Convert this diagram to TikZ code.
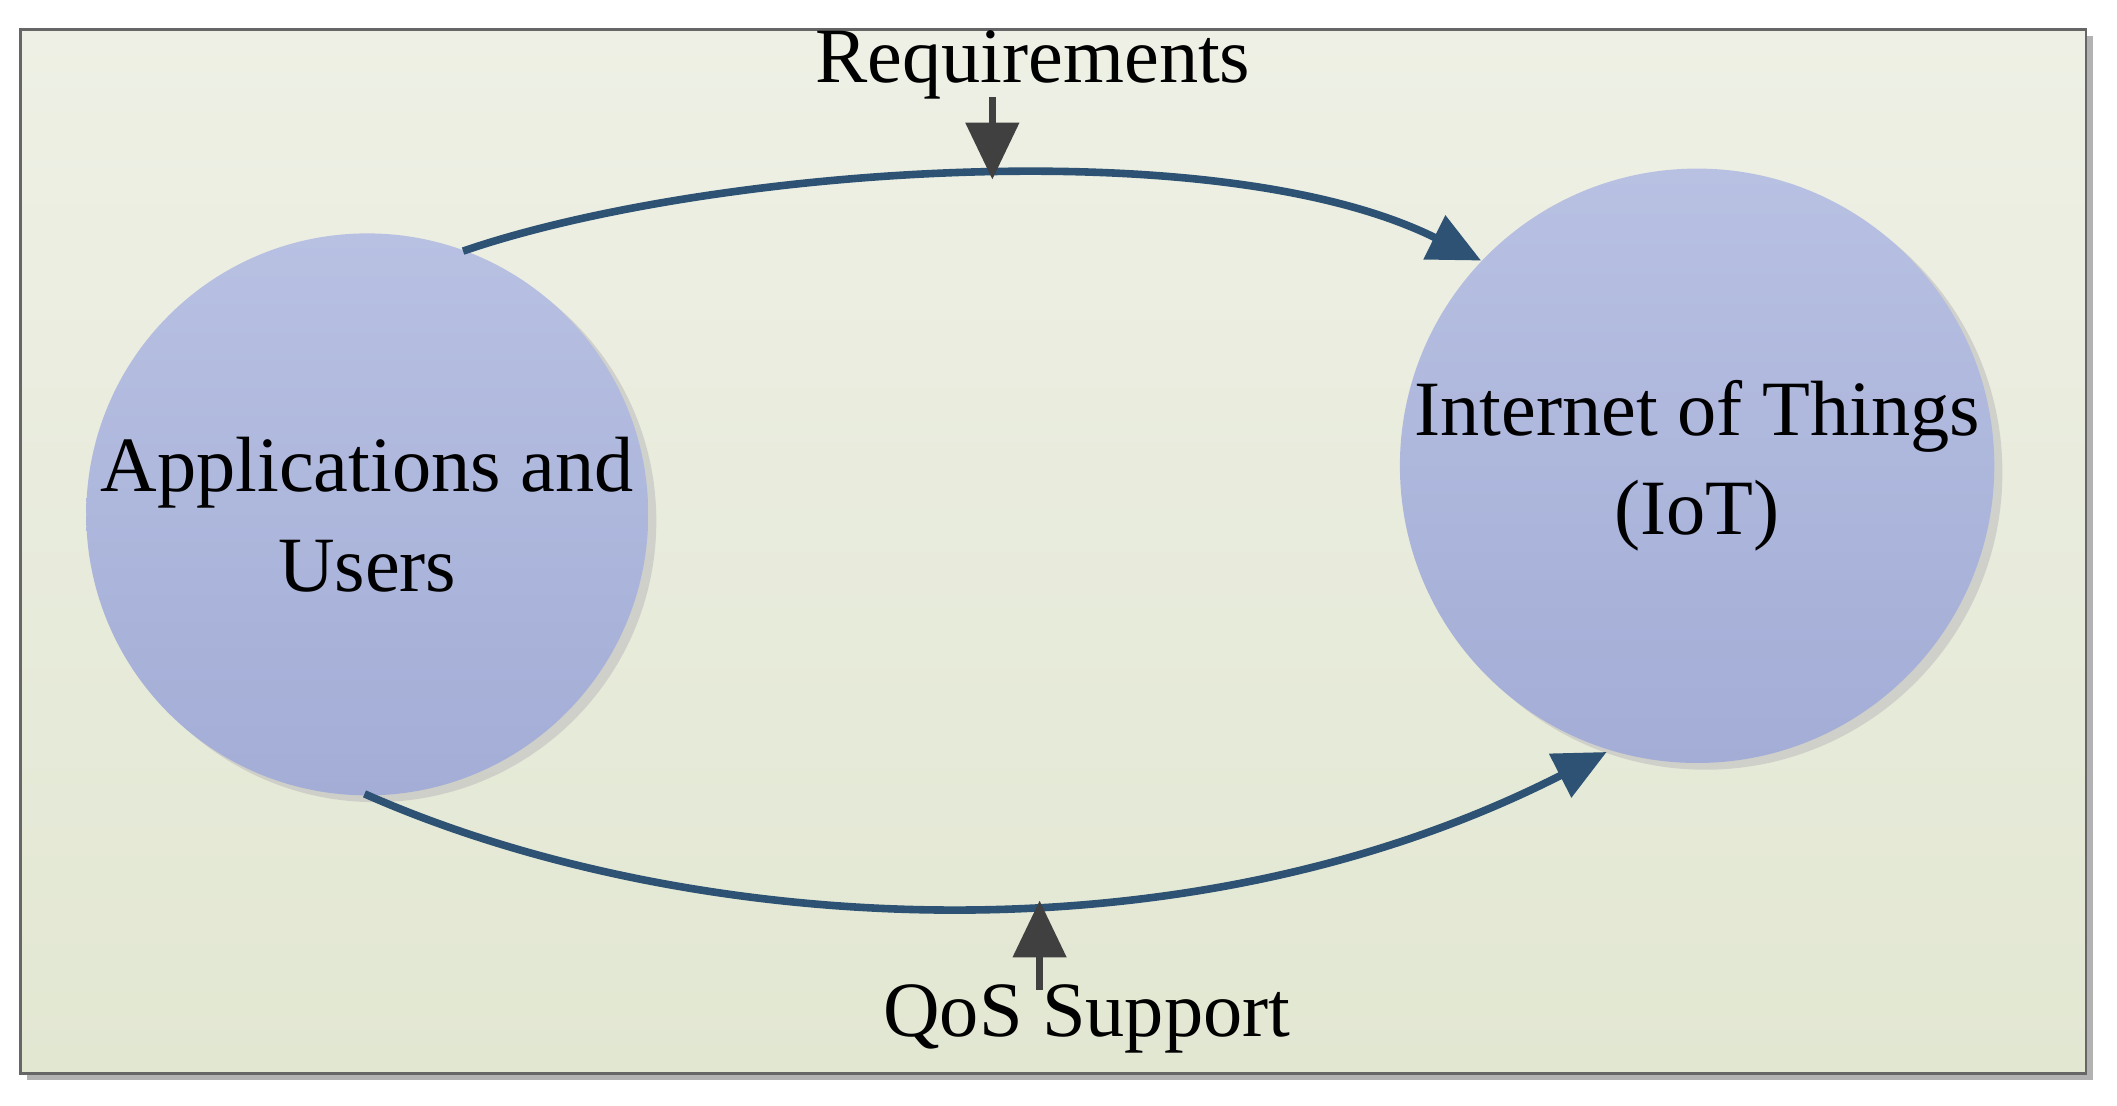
\documentclass[tikz,border=0pt]{standalone}
\usepackage{fontspec}
\setmainfont{Liberation Serif}
\usetikzlibrary{arrows.meta,shadows}
\definecolor{bgtop}{HTML}{EEF0E5}
\definecolor{bgbot}{HTML}{E2E7D2}
\definecolor{ctop}{HTML}{B8C1E2}
\definecolor{cbot}{HTML}{A3ADD6}
\definecolor{arc}{HTML}{2D5274}
\begin{document}
\begin{tikzpicture}[x=0.01cm,y=-0.01cm,
  ball/.style={circle,inner sep=0pt,top color=ctop,bottom color=cbot,draw=none,
    drop shadow={shadow xshift=0.06cm,shadow yshift=-0.05cm,fill=black!25,opacity=0.6}},
  flow/.style={draw=arc,line width=1.6pt,-{Triangle[length=11pt,width=10pt]}},
  inp/.style={draw=black!75,line width=1.6pt,-{Triangle[length=12pt,width=11pt]}},
  lab/.style={font=\fontsize{16.5}{21}\selectfont,align=center}]
\useasboundingbox (0,0) rectangle (1568,819);
\fill[black!30] (20,27) rectangle (1550,800);
\path[top color=bgtop,bottom color=bgbot,draw=black!60,line width=0.6pt] (15,22) rectangle (1545,795);
\node[ball,minimum size=4.16cm] (app) at (272,381) {};
\node[lab] (appt) at (app) {Applications and\\Users};
\node[ball,minimum size=4.4cm] (iot) at (1257,345) {};
\node[lab] (iott) at (iot) {Internet of Things\\(IoT)};
\coordinate (a1) at (343,186);
\coordinate (a2) at (1097,193);
\coordinate (b1) at (270,588);
\coordinate (b2) at (1190,557);
\draw[flow] (a1) .. controls (520,125) and (900,95) .. (a2);
\draw[flow] (b1) .. controls (500,690) and (870,720) .. (b2);
\node[lab] (req) at (765,48) {Requirements};
\node[lab] (qos) at (805,755) {QoS Support};
\coordinate (r2) at (735,133);
\coordinate (q2) at (770,667);
\draw[inp] (735,72) -- (r2);
\draw[inp] (770,733) -- (q2);
\end{tikzpicture}
\end{document}
